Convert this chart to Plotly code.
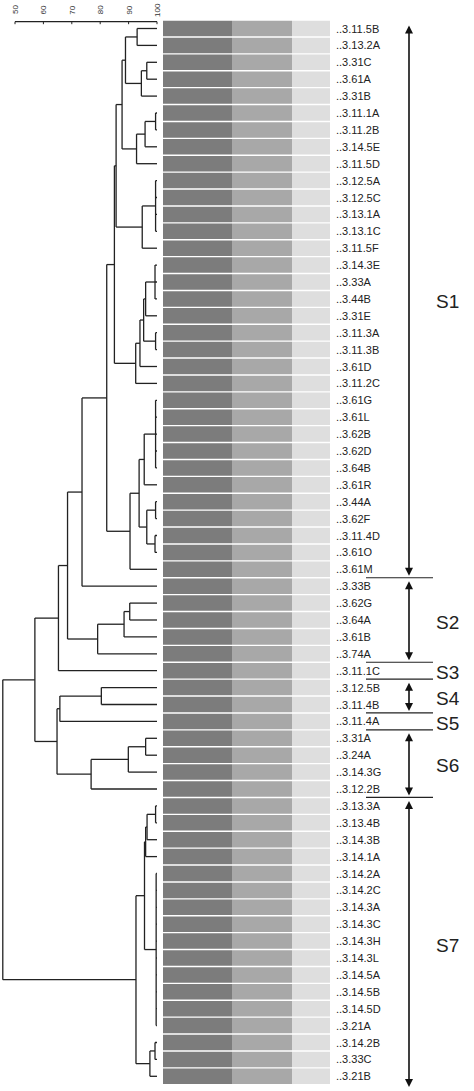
import plotly.graph_objects as go

labels = ["3.11.5B","3.13.2A","3.31C","3.61A","3.31B","3.11.1A","3.11.2B","3.14.5E","3.11.5D","3.12.5A",
"3.12.5C","3.13.1A","3.13.1C","3.11.5F","3.14.3E","3.33A","3.44B","3.31E","3.11.3A","3.11.3B","3.61D",
"3.11.2C","3.61G","3.61L","3.62B","3.62D","3.64B","3.61R","3.44A","3.62F","3.11.4D","3.61O","3.61M",
"3.33B","3.62G","3.64A","3.61B","3.74A","3.11.1C","3.12.5B","3.11.4B","3.11.4A",
"3.31A","3.24A","3.14.3G","3.12.2B",
"3.13.3A","3.13.4B","3.14.3B","3.14.1A","3.14.2A","3.14.2C","3.14.3A","3.14.3C","3.14.3H","3.14.3L",
"3.14.5A","3.14.5B","3.14.5D","3.21A","3.14.2B","3.33C","3.21B"]

groups = ["S1","S2","S3","S4","S5","S6","S7"]
group_first = [0,33,38,39,41,42,46]
group_last = [32,37,38,40,41,45,62]

scale_ticks = [50,60,70,80,90,100]

# dendrogram: (similarity, [children]); ints are leaves
g0_4 = (88.9, [(93.0, [0, 1]), (94.5, [(96.4, [2, 3]), 4])])
g5_8 = (92.8, [(95.8, [(99.5, [5, 6]), 7]), 8])
g0_8 = (87.7, [g0_4, g5_8])
g9_13 = (94.8, [(99.5, [9, 10, 11, 12]), 13])
g14_21 = (92.5, [(94.0, [(95.3, [(96.0, [(99.3, [14, 15, 16]), 17]), (99.5, [18, 19])]), 20]), 21])
g0_13 = (85.6, [g0_8, g9_13])
g0_21 = (85.0, [g0_13, g14_21])
g22_32 = (90.5, [(93.7, [(95.5, [(99.5, [22, 23, 24, 25, 26]), 27]), (96.4, [(99.5, [28, 29]), (99.3, [30, 31])])]), 32])
g0_32 = (82.3, [g0_21, g22_32])
g0_33 = (73.6, [g0_32, 33])
s2 = (79.1, [(88.4, [(90.4, [34, 35]), 36]), 37])
g0_37 = (68.5, [g0_33, s2])
g0_38 = (65.3, [g0_37, 38])
s4 = (80.4, [39, 40])
g39_41 = (65.8, [s4, 41])
s6 = (76.8, [(89.9, [(96.0, [42, 43]), 44]), 45])
g39_45 = (64.8, [g39_41, s6])
g0_45 = (57.0, [g0_38, g39_45])
s7 = (92.6, [(95.6, [(96.0, [(96.5, [(99.5, [46, 47]), 48]), 49]), (99.7, list(range(50, 60)))]),
             (97.5, [(99.3, [60, 61]), 62])])
root = (45.7, [g0_45, s7])

# ---- layout helpers (page pixel -> similarity units) ----
W, H = 474, 1091
def px(p):
    return 50 + (p - 15) / 2.84
Y0, DY = 28.5, 16.9
def ly(i):
    return Y0 + i * DY

xs, ys = [], []
def draw(node):
    if isinstance(node, int):
        return 100.0, ly(node)
    sim, kids = node
    res = [draw(k) for k in kids]
    for (cs, cy) in res:
        xs.extend([cs, sim, None]); ys.extend([cy, cy, None])
    cys = [r[1] for r in res]
    xs.extend([sim, sim, None]); ys.extend([min(cys), max(cys), None])
    return sim, (min(cys) + max(cys)) / 2
draw(root)

fig = go.Figure()

# gel lanes (stylised)
n = len(labels)
lane_y = [ly(i) for i in range(n)]
segs = [(163, 232, "#7c7c7c"), (232, 292, "#a8a8a8"), (292, 330, "#dedede")]
for a, b, c in segs:
    fig.add_trace(go.Bar(y=lane_y, x=[px(b) - px(a)] * n, base=[px(a)] * n, orientation="h",
                         width=15.5, marker=dict(color=c, line=dict(width=0)), showlegend=False,
                         hoverinfo="skip"))

fig.add_trace(go.Scatter(x=xs, y=ys, mode="lines", line=dict(color="#222", width=1.3),
                         showlegend=False, hoverinfo="skip", cliponaxis=False))

ann = []
# scale axis
ax_y = 21.7
fig.add_shape(type="line", x0=50, x1=100, y0=ax_y, y1=ax_y, line=dict(color="#222", width=1.2))
for t in scale_ticks:
    fig.add_shape(type="line", x0=t, x1=t, y0=ax_y, y1=ax_y + 2.5, line=dict(color="#222", width=1))
    ann.append(dict(x=t, y=10, text=str(t), showarrow=False, textangle=-90,
                    font=dict(size=8, color="#333", family="Liberation Sans")))

for i, lab in enumerate(labels):
    ann.append(dict(x=px(334), y=ly(i), text=".." + lab, showarrow=False, xanchor="left",
                    font=dict(size=11, color="#222", family="Liberation Sans Narrow, Liberation Sans")))

# group separators, arrows and names
for gi, g in enumerate(groups):
    a, b = group_first[gi], group_last[gi]
    ytop = ly(a) - DY / 2 if a > 0 else 22
    ybot = ly(b) + DY / 2 if b < n - 1 else 1089
    if gi > 0:
        fig.add_shape(type="line", x0=px(366), x1=px(433), y0=ytop, y1=ytop,
                      line=dict(color="#222", width=1.2))
    if b > a:
        ann.append(dict(x=px(409), y=ybot - 2, ax=px(409), ay=ytop + 2, axref="x", ayref="y",
                        text="", showarrow=True, arrowhead=2, arrowside="end+start",
                        arrowsize=1, arrowwidth=1.6, arrowcolor="#111"))
    ann.append(dict(x=px(434), y=(ytop + ybot) / 2 + 2, text=g, showarrow=False, xanchor="left",
                    font=dict(size=19, color="#222", family="Liberation Sans Narrow, Liberation Sans")))

fig.update_layout(width=W, height=H, margin=dict(l=0, r=0, t=0, b=0),
                  plot_bgcolor="white", paper_bgcolor="white", barmode="overlay",
                  annotations=ann,
                  xaxis=dict(range=[px(0), px(W)], visible=False, fixedrange=True),
                  yaxis=dict(range=[H, 0], visible=False, fixedrange=True))
fig.write_html("out.html", post_script="document.body.style.margin='0';",
               config={"displayModeBar": False})
